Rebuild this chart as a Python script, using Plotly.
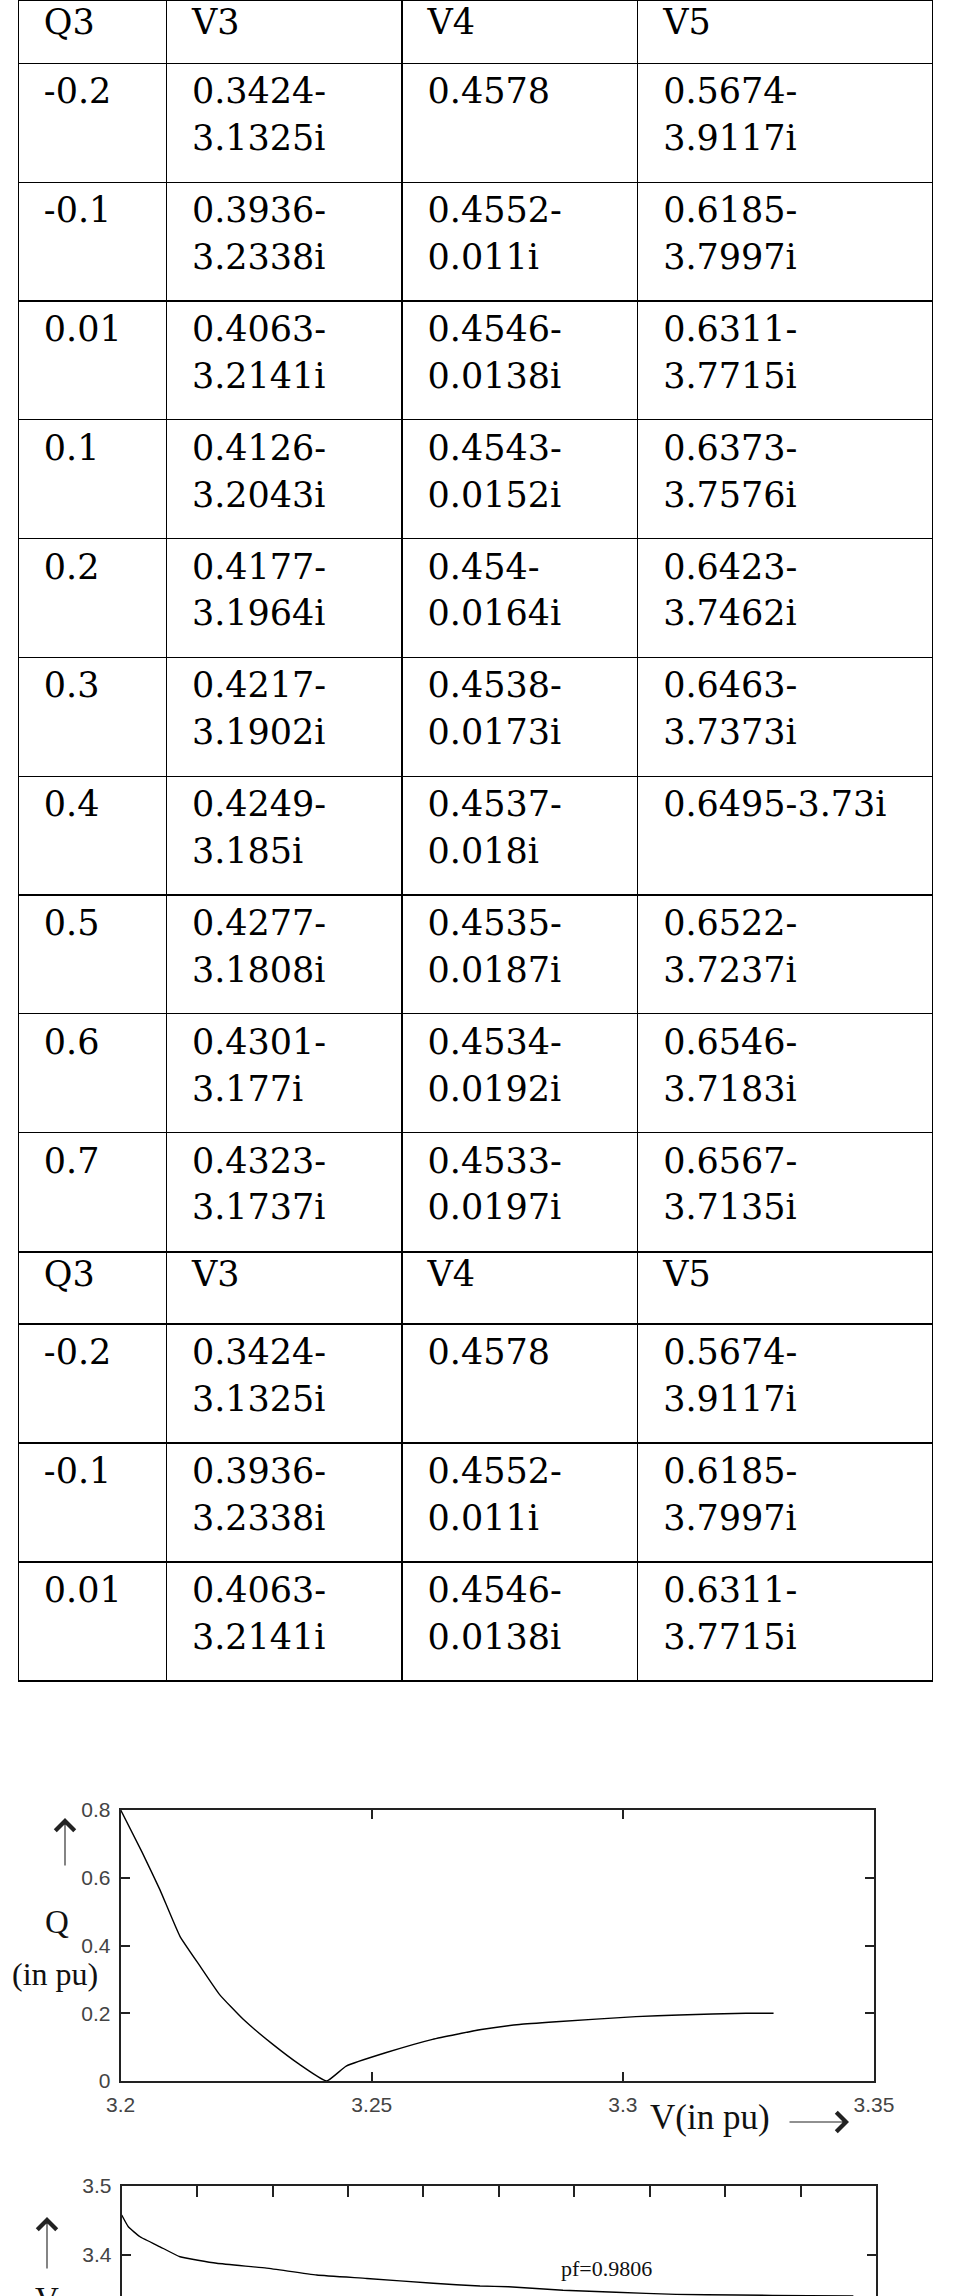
"""Q3 sweep table (bus voltages V3/V4/V5) with the Q-V and V curves under it."""
import plotly.graph_objects as go

W, H = 956, 2296

# table values, one entry per Q3 step
Q3 = ["-0.2", "-0.1", "0.01", "0.1", "0.2", "0.3", "0.4", "0.5", "0.6", "0.7"]
V3 = ["0.3424-3.1325i", "0.3936-3.2338i", "0.4063-3.2141i", "0.4126-3.2043i",
      "0.4177-3.1964i", "0.4217-3.1902i", "0.4249-3.185i", "0.4277-3.1808i",
      "0.4301-3.177i", "0.4323-3.1737i"]
V4 = ["0.4578", "0.4552-0.011i", "0.4546-0.0138i", "0.4543-0.0152i",
      "0.454-0.0164i", "0.4538-0.0173i", "0.4537-0.018i", "0.4535-0.0187i",
      "0.4534-0.0192i", "0.4533-0.0197i"]
V5 = ["0.5674-3.9117i", "0.6185-3.7997i", "0.6311-3.7715i", "0.6373-3.7576i",
      "0.6423-3.7462i", "0.6463-3.7373i", "0.6495-3.73i", "0.6522-3.7237i",
      "0.6546-3.7183i", "0.6567-3.7135i"]
HEADER = ["Q3", "V3", "V4", "V5"]
N_REPEAT = 3  # the page repeats the header and the first three rows

# Q-V curve
QV_V = [3.2, 3.2042, 3.2078, 3.2118, 3.2158, 3.2197, 3.2244, 3.2303, 3.2356,
        3.241, 3.2449, 3.2529, 3.2621, 3.2718, 3.2794, 3.2867, 3.3026, 3.3112,
        3.3245, 3.330]
QV_Q = [0.8, 0.677, 0.565, 0.427, 0.339, 0.255, 0.182, 0.108, 0.049,
        0.0, 0.044, 0.084, 0.123, 0.152, 0.167, 0.175, 0.19, 0.195,
        0.2, 0.2]

# lower plot, x labels are off the page
PF_X = [0.0, 0.0088, 0.0243, 0.0508, 0.0773, 0.126, 0.192, 0.2585, 0.325,
        0.413, 0.475, 0.513, 0.585, 0.655, 0.735, 0.815, 0.911, 0.97]
PF_V = [3.458, 3.441, 3.4265, 3.412, 3.3975, 3.388, 3.381, 3.371, 3.366,
        3.359, 3.355, 3.354, 3.349, 3.346, 3.343, 3.342, 3.341, 3.3405]

# cell font a bit bigger than the glyphs so the two lines sit further apart
CELL_FONT = dict(family="DejaVu Serif", size=36, color="black")
HEAD_FONT = dict(family="DejaVu Serif", size=35, color="black")
GLYPH = "<span style='font-size:35px'>%s</span>"
PAD = "\u2002"  # Word-style left indent inside the cells
COLW = [148, 235.5, 235.5, 294.5]


def cell(s, maxlen):
    # the narrow columns break the complex number after the minus sign
    if len(s) > maxlen and "-" in s[1:]:
        k = s.rindex("-")
        lines = [s[:k + 1], s[k + 1:]]
    else:
        lines = [s, ""]
    return "<br>".join(GLYPH % (PAD + t) for t in lines)


def cols(n):
    return [[cell(q, 99) for q in Q3[:n]],
            [cell(v, 10) for v in V3[:n]],
            [cell(v, 10) for v in V4[:n]],
            [cell(v, 12) for v in V5[:n]]]


def ypx(a, b):
    return [1 - b / H, 1 - a / H]


xdom_tab = [18.3 / W, 933 / W]
line = dict(color="black", width=1.3)

fig = go.Figure()
fig.add_trace(go.Table(
    domain=dict(x=xdom_tab, y=ypx(0, 1256)),
    columnwidth=COLW,
    header=dict(values=[PAD + h for h in HEADER], height=63.4, align="left",
                font=HEAD_FONT, fill_color="white", line=line),
    cells=dict(values=cols(len(Q3)), height=118.8, align="left",
               font=CELL_FONT, fill_color="white", line=line)))
fig.add_trace(go.Table(
    domain=dict(x=xdom_tab, y=ypx(1252, 1692)),
    columnwidth=COLW,
    header=dict(values=[PAD + h for h in HEADER], height=72, align="left",
                font=HEAD_FONT, fill_color="white", line=line),
    cells=dict(values=cols(N_REPEAT), height=119, align="left",
               font=CELL_FONT, fill_color="white", line=line)))

fig.add_trace(go.Scatter(x=QV_V, y=QV_Q, mode="lines", xaxis="x", yaxis="y",
                         line=dict(color="black", width=1.4, shape="spline",
                                   smoothing=0.4), showlegend=False))
fig.add_trace(go.Scatter(x=PF_X, y=PF_V, mode="lines", xaxis="x2", yaxis="y2",
                         line=dict(color="black", width=1.4, shape="spline",
                                   smoothing=0.4), showlegend=False))

tickfont = dict(family="Liberation Sans", size=21, color="#444")
axis = dict(showline=True, linecolor="#222", linewidth=2, ticks="inside",
            ticklen=9, tickcolor="#222", tickwidth=1.5, showgrid=False,
            zeroline=False, tickfont=tickfont, automargin=False)

fig.update_layout(
    width=W, height=H, margin=dict(l=0, r=0, t=0, b=0, autoexpand=False),
    paper_bgcolor="white", plot_bgcolor="white", showlegend=False,
    xaxis=dict(axis, domain=[120.7 / W, 874 / W], range=[3.2, 3.35],
               dtick=0.05, tick0=3.2, mirror="ticks", anchor="y",
               ticklabelstandoff=4),
    yaxis=dict(axis, domain=ypx(1810, 2081), range=[0, 0.8], dtick=0.2,
               mirror="ticks", anchor="x", ticklabelstandoff=4),
    xaxis2=dict(axis, domain=[121.7 / W, 876 / W], range=[0, 1], dtick=0.1,
                side="top", showticklabels=False, anchor="y2", ticklen=11),
    yaxis2=dict(axis, domain=ypx(2186, H), range=[3.3406, 3.5001], dtick=0.1,
                mirror="ticks", anchor="x2", ticklabelstandoff=4),
)

serif = "Liberation Serif"


def px(x, y):
    return dict(xref="paper", yref="paper", x=x / W, y=1 - y / H)


notes = [
    dict(px(57, 1922), text="Q", font=dict(family=serif, size=33, color="#111")),
    dict(px(55, 1974), text="(in pu)", font=dict(family=serif, size=32, color="#111")),
    dict(px(710, 2117), text="V(in pu)", font=dict(family=serif, size=35, color="#111")),
    dict(px(47, 2279), text="V", yanchor="top",
         font=dict(family=serif, size=33, color="#111")),
    dict(xref="x2", yref="y2", x=0.643, y=3.381, text="pf=0.9806",
         font=dict(family=serif, size=22, color="#111")),
]
for n in notes:
    n.setdefault("showarrow", False)
    n.setdefault("xanchor", "center")
    n.setdefault("yanchor", "middle")
    fig.add_annotation(**n)

# hand-drawn style axis arrows
arrow = dict(showarrow=True, text="", arrowhead=4, arrowsize=3.4,
             arrowwidth=1.1, arrowcolor="#222")
fig.add_annotation(px(65, 1818), ax=0, ay=49, **arrow)
fig.add_annotation(px(849, 2122), ax=-61, ay=0, **arrow)
fig.add_annotation(px(47, 2217), ax=0, ay=53, **arrow)

# the default page keeps an 8px body margin; drop it so the figure sits at 0,0
fig.write_html("out.html", config={"displayModeBar": False},
               post_script="document.body.style.margin='0';")
